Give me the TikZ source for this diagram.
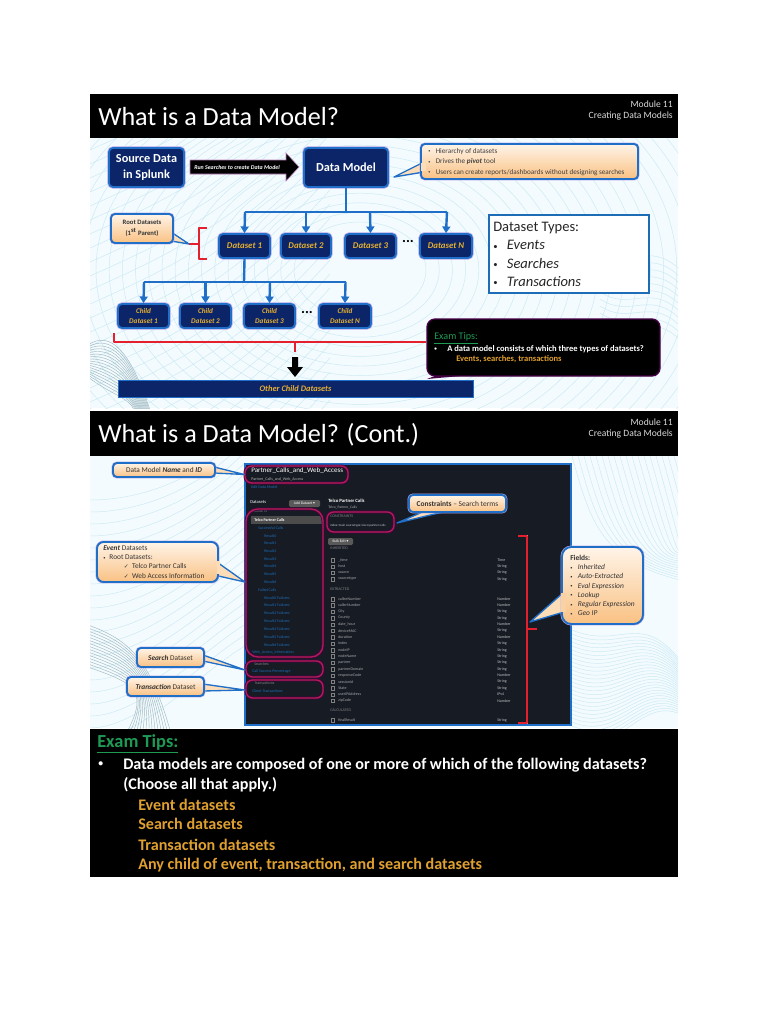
\documentclass[tikz,border=0pt]{standalone}
\usepackage{fontspec}
\setmainfont{Carlito}
\newfontfamily\dejavu{DejaVu Sans}
\usetikzlibrary{arrows.meta,calc}
\definecolor{navy}{HTML}{0B2568}
\definecolor{edgeblue}{HTML}{1F6FC8}
\definecolor{halo}{HTML}{B9A8E8}
\definecolor{gold}{HTML}{E8B030}
\definecolor{panel}{HTML}{171B24}
\definecolor{redline}{HTML}{E5202E}
\definecolor{wave}{HTML}{CBE9F3}
\definecolor{sky}{HTML}{F3FBFE}
\definecolor{linkblue}{HTML}{1C6DB5}
\definecolor{crimson}{HTML}{B0204F}
\definecolor{tipgreen}{HTML}{1F9A55}
\definecolor{tiporange}{HTML}{E0A030}
\definecolor{peachtop}{HTML}{FFF4E8}
\definecolor{peachbot}{HTML}{F9C183}
\definecolor{peachmid}{HTML}{FCDDB8}
\newcommand{\fz}[1]{\fontsize{#1}{#1}\selectfont}
\newcommand{\bul}{\raisebox{0.12ex}{\scalebox{0.6}{\textbullet}}}
\newcommand{\bx}[7]{%
  \pgfmathsetlengthmacro\bw{0.75pt*((#4)-(#2))}%
  \pgfmathsetlengthmacro\bh{0.75pt*((#5)-(#3))}%
  \node[#6,minimum width=\bw,minimum height=\bh,inner sep=0pt] (#1) at ({((#2)+(#4))/2},{((#3)+(#5))/2}) {#7};}
\tikzset{
  x=0.75pt,y=-0.75pt,
  navybox/.style={fill=navy,draw=edgeblue,line width=1.3pt,rounded corners=3pt,preaction={draw=halo,line width=2.4pt},text=white,align=center},
  goldbox/.style={navybox,text=gold,font=\fz{6.6}\bfseries\itshape},
  callout/.style={draw=edgeblue,line width=1.4pt,rounded corners=3pt,top color=peachtop,bottom color=peachbot,text=black!80,align=center,preaction={draw=halo,line width=2.2pt}},
  tail/.style={fill=peachmid,draw=edgeblue,line width=1pt,line join=round},
  feed/.style={draw=edgeblue,line width=1.8pt},
  feedarrow/.style={feed,-{Triangle[length=5pt,width=6pt]}},
  redbrace/.style={draw=redline,line width=1pt,preaction={draw=halo!70,line width=2.2pt},line join=round},
  redframe/.style={draw=crimson,line width=1pt,rounded corners=5pt,preaction={draw=violet!60!black,line width=2.2pt}},
  waveline/.style={draw=wave,line width=0.35pt},
  head/.style={anchor=west,text=white,inner sep=0pt},
  sub/.style={anchor=east,text=white!85!black,inner sep=0pt,align=right,font=\fz{7.2}},
  tiny/.style={anchor=west,inner sep=0pt,font=\fz{3}},
  tipline/.style={anchor=west,inner sep=0pt,text=white,font=\fz{12.1}\bfseries},
  tiporangeline/.style={anchor=west,inner sep=0pt,text=tiporange,font=\fz{12.1}\bfseries},
}
\begin{document}
\begin{tikzpicture}
\useasboundingbox (0,0) rectangle (768,1024);
\fill[white] (0,0) rectangle (768,1024);

% ---------- slide 1 background
\fill[sky] (90,138) rectangle (678,408);
\begin{scope}
\clip (90,138) rectangle (678,408);
\foreach \r in {60,72,...,420} \draw[waveline] (360,270) circle[x radius=\r*1.1,y radius=\r*0.8];
\foreach \i in {0,14,...,420} \draw[waveline] (90,{150+\i}) .. controls (180,{110+\i}) and (240,{80+\i}) .. (330,{-20+\i});
\foreach \i in {0,1,...,16} \draw[waveline,draw=wave!80!black] (88,{345+\i*2}) .. controls (110,{330+\i*4}) and (130,{350+\i*3}) .. ({150-\i},410);
\foreach \i in {0,7,...,70} \draw[waveline] (600,{250+\i}) .. controls (630,{270+\i}) and (650,{240+\i}) .. (680,{270+\i});
\end{scope}
% ---------- slide 2 background
\fill[sky] (90,456) rectangle (678,728);
\begin{scope}
\clip (90,456) rectangle (678,728);
\foreach \i in {0,12,...,240} \draw[waveline] (90,{500+\i}) .. controls (140,{500+\i}) and (200,{480+\i*0.8}) .. (245,{430+\i*0.9});
\foreach \i in {0,1,...,14} \draw[waveline,draw=wave!80!black] (88,{625+\i*3}) .. controls (130,{640+\i*3}) and (150,{660+\i*2}) .. ({170-\i*3},730);
\foreach \i in {0,6,...,110} \draw[waveline] ({572+\i},456) .. controls ({590+\i},520) and ({600+\i},560) .. (680,{580-\i*0.4});
\foreach \i in {0,4,...,110} \draw[waveline] (572,{630+\i}) .. controls (620,{650+\i}) and (640,{610+\i*0.8}) .. (680,{660+\i*0.5});
\end{scope}

% ---------- headers
\bx{hdrA}{90}{94}{678}{138}{fill=black}{}
\bx{hdrB}{90}{411}{678}{456}{fill=black}{}
\node[head,font=\fz{19.6}] (titleA) at (98,117) {What is a Data Model?};
\node[head,font=\fz{19.6}] (titleB) at (98,435) {What is a Data Model? (Cont.)};
\node[sub] (modA) at (673,104) {Module 11};
\node[sub] (credA) at (673,116) {Creating Data Models};
\node[sub] (modB) at (673,422) {Module 11};
\node[sub] (credB) at (673,434) {Creating Data Models};

% ---------- slide 1 top row
\bx{source}{109}{148}{184}{187}{navybox,font=\fz{9.2}\bfseries}{Source Data\\[3pt]in Splunk}
\bx{model}{304}{148}{388}{187}{navybox,font=\fz{9.2}\bfseries}{Data Model}
\fill[black,draw=violet!50,line width=0.4pt] (190,160) -- (286,160) -- (286,153) -- (299,167) -- (286,181) -- (286,174) -- (190,174) -- cycle;
\node[inner sep=0pt,text=white,font=\fz{4.4}\bfseries\itshape] (runlbl) at (237,167) {Run Searches to create Data Model};
% callout
\coordinate (ctip) at (394,177);
\fill[tail] (ctip) -- (424,162) -- (424,172) -- cycle;
\bx{hier}{421}{144}{638}{179}{callout}{}
\fill[peachmid] (420.5,163) rectangle (426,171);
\node[anchor=north west,inner sep=0pt,align=left,font=\fz{5.4},text=black!75] (hiertxt) at (428,148) {\bul\hspace{4pt}Hierarchy of datasets\\[2.4pt]\bul\hspace{4pt}Drives the \textbf{\textit{pivot}} tool\\[2.4pt]\bul\hspace{4pt}Users can create reports/dashboards without designing searches};

% dataset tree
\coordinate (rootbus) at (346,212);
\bx{ds1}{219}{234}{270}{258}{goldbox}{Dataset 1}
\bx{ds2}{281}{234}{331}{258}{goldbox}{Dataset 2}
\bx{ds3}{345}{234}{396}{258}{goldbox}{Dataset 3}
\bx{dsN}{420}{234}{472}{258}{goldbox}{Dataset N}
\node[inner sep=0pt,font=\fz{11}\bfseries] (dotsA) at (408,242) {...};
\draw[feed] (model.south) -- (rootbus);
\draw[feed] (245,212) -- (447,212);
\draw[feedarrow] (245,212) -- (ds1.north);
\draw[feedarrow] (306,212) -- (ds2.north);
\draw[feedarrow] (370,212) -- (ds3.north);
\draw[feedarrow] (447,212) -- (dsN.north);

\bx{ch1}{118}{304}{169}{328}{goldbox,font=\fz{5.4}\bfseries\itshape}{Child\\[2pt]Dataset 1}
\bx{ch2}{180}{304}{231}{328}{goldbox,font=\fz{5.4}\bfseries\itshape}{Child\\[2pt]Dataset 2}
\bx{ch3}{244}{304}{295}{328}{goldbox,font=\fz{5.4}\bfseries\itshape}{Child\\[2pt]Dataset 3}
\bx{chN}{319}{304}{371}{328}{goldbox,font=\fz{5.4}\bfseries\itshape}{Child\\[2pt]Dataset N}
\node[inner sep=0pt,font=\fz{11}\bfseries] (dotsB) at (307,313) {...};
\draw[feed] (ds1.south) -- (244,282);
\draw[feed] (144,282) -- (345.5,282);
\draw[feedarrow] (144,282) -- (ch1.north);
\draw[feedarrow] (205.5,282) -- (ch2.north);
\draw[feedarrow] (270,282) -- (ch3.north);
\draw[feedarrow] (345.5,282) -- (chN.north);

% root callout + bracket
\draw[redbrace] (207,228) -- (199,228) -- (199,259) -- (207,259);
\draw[redbrace] (199,244) -- (189,244);
\coordinate (rtip) at (189,244);
\fill[tail] (rtip) -- (165,228) -- (171,241) -- cycle;
\bx{root}{111}{214}{173}{243}{callout,font=\fz{5}\bfseries}{Root Datasets\\[2pt](1\textsuperscript{st} Parent)}

% dataset types
\bx{types}{489}{215}{649}{293}{fill=white,draw=linkblue,line width=0.9pt}{}
\node[anchor=north west,inner sep=0pt,align=left,font=\fz{10.9},text=black!85] (typestxt) at (493,222) {Dataset Types:\\[2.9pt]\bul\hspace{7pt}\textit{Events}\\[2.9pt]\bul\hspace{7pt}\textit{Searches}\\[2.9pt]\bul\hspace{7pt}\textit{Transactions}};

% red line to other datasets
\bx{other}{118}{380}{473}{397}{fill=navy,draw=edgeblue,line width=0.5pt,text=gold,font=\fz{6.3}\bfseries\itshape}{Other Child Datasets}
\fill[violet!55!black] (427,379) -- (460,376) -- (440,374) -- cycle;
\bx{tips}{427}{319}{660}{376}{fill=black,draw=violet!55!black,line width=1pt,rounded corners=6pt}{}
\draw[redbrace] (114,333) -- (114,342) -- (tips.west |- 114,342);
\draw[redbrace] (295,342) -- (295,352);
\fill[black] (292,357) -- (298,357) -- (298,367) -- (303,367) -- (295,377) -- (287,367) -- (292,367) -- cycle;
\node[anchor=west,inner sep=0pt,text=tipgreen,font=\fz{7.6}] (tiphead) at (434,338) {\underline{Exam Tips:}};
\node[anchor=west,inner sep=0pt,text=white,font=\fz{6.4}\bfseries] (tipb) at (434,349) {\bul};
\node[anchor=west,inner sep=0pt,text=white,font=\fz{6.4}\bfseries] (tipq) at (447,349) {A data model consists of which three types of datasets?};
\node[anchor=west,inner sep=0pt,text=tiporange,font=\fz{6.4}\bfseries] (tipa) at (456,359) {Events, searches, transactions};

% ---------- slide 2 panel
\bx{panelbox}{245}{464}{571}{725}{fill=panel,draw=edgeblue,line width=1.5pt}{}
\node[tiny,text=white,font=\fz{5.3}] (pname) at (251,471) {Partner\_Calls\_and\_Web\_Access};
\node[tiny,text=white!70!black,font=\fz{3}] (pid) at (251,479.5) {Partner\_Calls\_and\_Web\_Access};
\node[tiny,text=linkblue] (pedit) at (251,487) {Edit Data Model};
\node[tiny,text=white,font=\fz{3.4}] (pds) at (250,502) {Datasets};
\bx{addbtn}{289}{500}{320}{507}{fill=gray!70!black,rounded corners=1pt,text=white,font=\fz{2.8}}{Add Dataset {\dejavu ▾}}
\node[tiny,text=white,font=\fz{3.6}\bfseries] (telcoh) at (328,501) {Telco Partner Calls};
\node[tiny,text=white!70!black,font=\fz{2.7}] (telcoi) at (328,507) {Telco\_Partner\_Calls};
\node[tiny,text=gray] (dshd) at (251,511) {DATASETS};
\bx{telcorow}{251}{516}{323}{524}{fill=gray!60!black}{}
\node[tiny,text=white,font=\fz{3}\bfseries] (telcot) at (254,520) {Telco Partner Calls};
\node[tiny,text=linkblue] (succ) at (258,528) {Successful Calls};
\foreach \y/\n in {535.7/0,543.4/1,551/2,559/3,566.5/4,574/5,582/6}
  \node[tiny,text=linkblue] (res\n) at (264,\y) {Result\n};
\node[tiny,text=linkblue] (fail) at (258,590) {Failed Calls};
\foreach \y/\n in {598/0,605.5/1,613/2,621/3,629/4,636.7/5,644.7/6}
  \node[tiny,text=linkblue] (fres\n) at (264,\y) {Result\n{} Failures};
\node[tiny,text=linkblue] (web) at (252,652) {Web\_Access\_Information};
\node[tiny,text=gray] (srch) at (254,664) {Searches};
\node[tiny,text=linkblue] (callp) at (252,671.7) {Call Success Percentage};
\node[tiny,text=gray] (tran) at (254,683) {Transactions};
\node[tiny,text=linkblue] (clt) at (252,691) {Client Transactions};
\node[tiny,text=gray] (cnst) at (330,516) {CONSTRAINTS};
\node[tiny,text=white!80!black,font=\fz{2.4}] (cnstq) at (330,526) {index=main sourcetype=cisco:partner:calls};
\bx{bulk}{328}{538}{353}{545}{fill=gray!70!black,rounded corners=1pt,text=white,font=\fz{2.8}}{Bulk Edit {\dejavu ▾}}
\node[tiny,text=gray] (inh) at (330,548) {INHERITED};
\node[tiny,text=gray] (ext) at (330,589) {EXTRACTED};
\node[tiny,text=gray] (calc) at (330,710) {CALCULATED};
\foreach \y/\n/\t [count=\k] in {
 560/\_time/Time,566.5/host/String,572.7/source/String,579/sourcetype/String,
 599/calleeNumber/Number,605.3/callerNumber/Number,611.7/City/String,618/County/String,
 624.5/date\_hour/Number,630.8/deviceMAC/String,637.2/duration/Number,643.6/index/String,
 650/nodeIP/String,656.3/nodeName/String,662.7/partner/String,669/partnerDomain/String,
 675.5/responseCode/Number,681.8/sessionId/String,688.2/State/String,694.6/userIPAddress/IPv4,700.8/zipCode/Number,720/finalResult/String}
{
  \bx{chk\k}{331}{\y-1.8}{334.6}{\y+1.8}{draw=gray,line width=0.25pt}{}
  \node[tiny,text=white!65!black] (fld\k) at (338,\y) {\n};
  \node[tiny,text=white!75!black] (typ\k) at (497,\y) {\t};
}
% red frames
\bx{fname}{245}{466}{348}{483}{redframe}{}
\bx{flist}{246}{509}{323}{657}{redframe,rounded corners=9pt}{}
\bx{fsearch}{246}{661}{323}{677}{redframe}{}
\bx{ftrans}{246}{680}{323}{698}{redframe}{}
\bx{fcons}{327}{512}{394}{532}{redframe}{}
\draw[redbrace] (518,536) -- (527,536) -- (527,723) -- (518,723);
\draw[redbrace] (527,629) -- (537,629);

% ---------- slide 2 callouts
\coordinate (nm) at (fname.west);
\fill[tail] (nm) -- (214,467) -- (214,473) -- cycle;
\bx{cname}{113}{463}{215}{477}{callout,font=\fz{5.5}}{Data Model \textbf{\textit{Name}} and \textbf{\textit{ID}}}

\coordinate (ev) at (245,582);
\fill[tail] (ev) -- (214,560) -- (214,575) -- cycle;
\bx{cevent}{97}{542}{218}{582}{callout,rounded corners=5pt}{}
\fill[peachmid] (216.5,561) rectangle (220,574);
\node[anchor=north west,inner sep=0pt,align=left,font=\fz{5.5},text=black!80] (ceventtxt) at (103,545) {\textbf{\textit{Event}} Datasets\\[1.6pt]\bul\hspace{3pt}Root Datasets:\\[1.6pt]\hspace{15.5pt}{\dejavu\fz{4.4}✓}\hspace{2.5pt}Telco Partner Calls\\[1.6pt]\hspace{15.5pt}{\dejavu\fz{4.4}✓}\hspace{2.5pt}Web Access Information};

\coordinate (sr) at (245,670);
\fill[tail] (sr) -- (203,655) -- (203,661) -- cycle;
\bx{csearch}{137}{648}{204}{667}{callout,font=\fz{5.5}}{\textbf{\textit{Search}} Dataset}

\coordinate (tr) at (245,690);
\fill[tail] (tr) -- (203,684) -- (203,691) -- cycle;
\bx{ctrans}{127}{677}{204}{696}{callout,font=\fz{5.5}}{\textbf{\textit{Transaction}} Dataset}

\coordinate (cn) at (397,523);
\fill[tail] (cn) -- (425,511) -- (447,511) -- cycle;
\bx{ccons}{409}{495}{506}{512}{callout,font=\fz{5.6}}{\textbf{Constraints} -- Search terms}

\coordinate (fd) at (530,622);
\fill[tail] (fd) -- (564,592) -- (564,612) -- cycle;
\bx{cfields}{562}{547}{643}{624}{callout,rounded corners=7pt}{}
\fill[peachbot!75!white] (560.5,593) -- (566,593) -- (566,612) -- (560.5,612) -- cycle;
\node[anchor=north west,inner sep=0pt,align=left,font=\fz{5.6},text=black!80] (cfieldstxt) at (570,555) {\textbf{Fields:}\\[1.3pt]\bul\hspace{4pt}\textit{Inherited}\\[1.3pt]\bul\hspace{4pt}\textit{Auto-Extracted}\\[1.3pt]\bul\hspace{4pt}\textit{Eval Expression}\\[1.3pt]\bul\hspace{4pt}\textit{Lookup}\\[1.3pt]\bul\hspace{4pt}\textit{Regular Expression}\\[1.3pt]\bul\hspace{4pt}\textit{Geo IP}};

% ---------- bottom exam box
\bx{exam}{90}{729}{678}{877}{fill=black}{}
\node[anchor=west,inner sep=0pt,text=tipgreen,font=\fz{13.8}\bfseries] (ehead) at (97,744) {\underline{Exam Tips:}};
\node[tipline] (eb) at (98,765) {\bul};
\node[tipline] (e1) at (123,765) {Data models are composed of one or more of which of the following datasets?};
\node[tipline] (e2) at (123,785) {(Choose all that apply.)};
\node[tiporangeline] (a1) at (138,805) {Event datasets};
\node[tiporangeline] (a2) at (138,824) {Search datasets};
\node[tiporangeline] (a3) at (138,845) {Transaction datasets};
\node[tiporangeline] (a4) at (138,865) {Any child of event, transaction, and search datasets};
\end{tikzpicture}
\end{document}
